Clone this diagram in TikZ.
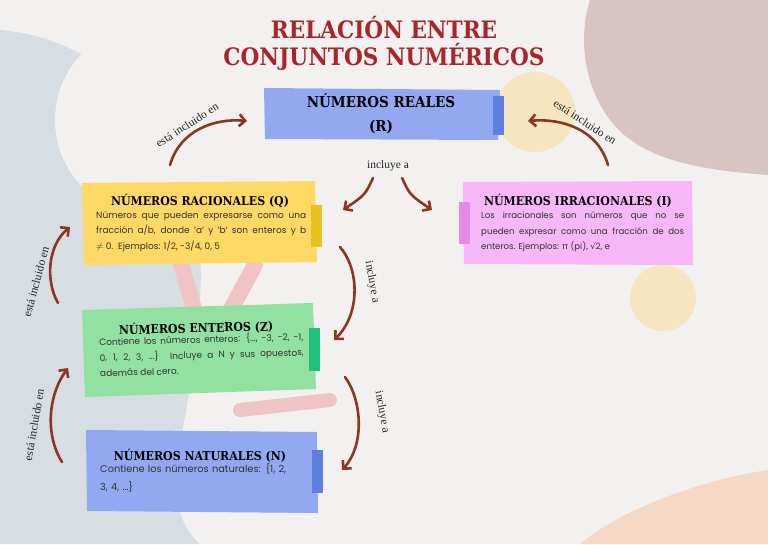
\documentclass[tikz,border=0pt]{standalone}
\usepackage{fontspec}
\setmainfont{Poppins}
\newfontfamily\slabc{DejaVu Serif Condensed}
\newfontfamily\djs{DejaVu Sans}
\newfontfamily\lab{Liberation Serif}
\usetikzlibrary{arrows.meta}
\newcommand{\nohy}{\hyphenpenalty=10000\relax}
\definecolor{bg}{HTML}{F3F1EF}
\definecolor{blob}{HTML}{D6DEE3}
\definecolor{mauve}{HTML}{D9C4C4}
\definecolor{peach}{HTML}{F6D9C4}
\definecolor{pyel}{HTML}{F5E6C0}
\definecolor{pstroke}{HTML}{F0C4C4}
\definecolor{ttl}{HTML}{A8262B}
\definecolor{arr}{HTML}{8E3422}
\definecolor{cblue}{HTML}{92A9F2}
\definecolor{tblue}{HTML}{5E7FE0}
\definecolor{cyel}{HTML}{FFD966}
\definecolor{tyel}{HTML}{E6C21E}
\definecolor{cpink}{HTML}{F7B8F7}
\definecolor{tpink}{HTML}{E48BE4}
\definecolor{cgreen}{HTML}{92E1A2}
\definecolor{tgreen}{HTML}{1FBF7C}
\tikzset{
 hd/.style={font=\slabc\bfseries\fontsize{12.2}{14}\selectfont, text=black},
 bd/.style={font=\fontsize{9}{15.5}\selectfont\nohy, text=black!80, align=justify, text width=#1, inner sep=0pt},
 con/.style={draw=arr, line width=2.6pt, -{Straight Barb[length=6pt,width=12pt]}, line cap=round},
 lb/.style={font=\lab\fontsize{11.5}{12}\selectfont, text=black!85}
}
\begin{document}
\begin{tikzpicture}[x=1pt,y=-1pt]
\useasboundingbox (0,0) rectangle (768,544);
\fill[bg] (0,0) rectangle (768,544);
\begin{scope}
\clip (0,0) rectangle (768,544);
\fill[mauve] (590,0) -- (768,0) -- (768,175) .. controls (700,170) and (640,160) .. (610,120) .. controls (580,80) and (580,30) .. (590,0) -- cycle;
\fill[blob] (0,30) .. controls (120,40) and (210,150) .. (200,300) .. controls (195,420) and (150,500) .. (200,544) -- (0,544) -- cycle;
\fill[bg] (150,120) circle (95);
\fill[peach] (768,470) .. controls (700,480) and (620,510) .. (580,544) -- (768,544) -- cycle;
\fill[pyel] (535,112) circle (40);
\fill[pyel] (663,298) circle (33);
\draw[pstroke, line width=16pt, line cap=round] (180,260) -- (200,330);
\draw[pstroke, line width=16pt, line cap=round] (255,265) -- (225,320);
\draw[pstroke, line width=14pt, line cap=round] (240,410) -- (330,400);
\end{scope}
% title
\node[font=\slabc\bfseries\fontsize{24}{27}\selectfont, text=ttl, align=center] (title) at (384,43) {RELACIÓN ENTRE\\CONJUNTOS NUMÉRICOS};
% boxes
\fill[cblue] (264,88) -- (500,90) -- (498,140) -- (265,139) -- cycle;
\fill[tblue] (493,96) rectangle (504,135);
\node[font=\slabc\bfseries\fontsize{15}{24}\selectfont, align=center] (R) at (381,114) {NÚMEROS REALES\\(R)};
\fill[cyel] (82,183) -- (315,181) -- (317,262) -- (84,265) -- cycle;
\fill[tyel] (311,205) rectangle (322,247);
\node[hd] (Q) at (200,201) {NÚMEROS RACIONALES (Q)};
\node[bd=210pt, anchor=north west] (Qt) at (96,211) {Números que pueden expresarse como una fracción a/b, donde 'a' y 'b' son enteros y b\break $\neq$ 0.\ \ Ejemplos: 1/2, -3/4, 0, 5};
\fill[cpink] (463,182) -- (692,181) -- (693,265) -- (464,264) -- cycle;
\fill[tpink] (459,202) rectangle (470,244);
\node[hd] (I) at (578,201) {NÚMEROS IRRACIONALES (I)};
\node[bd=203pt, anchor=north west, font=\fontsize{8.6}{15.5}\selectfont\nohy] (It) at (481,212) {Los irracionales son números que no se\break pueden expresar como una fracción de dos\break enteros. Ejemplos: π (pi), {\djs√}2, e};
\fill[cgreen] (82,310) -- (313,303) -- (316,389) -- (85,397) -- cycle;
\fill[tgreen] (309,328) rectangle (320,371);
\node[hd, rotate=1.5] (Z) at (196,328) {NÚMEROS ENTEROS (Z)};
\node[bd=204pt, anchor=north west, rotate=1.5] (Zt) at (99,337) {Contiene los números enteros: \{..., -3, -2, -1,\break 0, 1, 2, 3, ...\} Incluye a N y sus opuestos,\break además del cero.};
\fill[cblue] (86,430) -- (317,432) -- (318,513) -- (87,511) -- cycle;
\fill[tblue] (312,450) rectangle (323,493);
\node[hd] (N) at (200,456) {NÚMEROS NATURALES (N)};
\node[bd=205pt, anchor=north west, align=left, font=\fontsize{9.8}{18}\selectfont\nohy] (Nt) at (100,463) {Contiene los números naturales: \{1, 2,\\3, 4, ...\}};
% connectors
\coordinate (a1) at (170,165); \coordinate (a2) at (247,121);
\draw[con] (a1) .. controls (180,130) and (215,118) .. (a2);
\node[lb, rotate=33] (l1) at (187,125) {está incluido en};
\coordinate (b1) at (608,165); \coordinate (b2) at (528,121);
\draw[con] (b1) .. controls (598,130) and (563,118) .. (b2);
\node[lb, rotate=-33] (l2) at (585,122) {está incluido en};
\node[lb] (inc) at (388,166) {incluye a};
\coordinate (c1) at (373,178); \coordinate (c2) at (343,210);
\draw[con] (c1) .. controls (365,195) .. (c2);
\coordinate (d1) at (402,178); \coordinate (d2) at (432,210);
\draw[con] (d1) .. controls (410,195) .. (d2);
\coordinate (e1) at (340,247); \coordinate (e2) at (334,340);
\draw[con] (e1) .. controls (360,270) and (360,315) .. (e2);
\node[lb, rotate=-80] (l3) at (372,282) {incluye a};
\coordinate (f1) at (345,377); \coordinate (f2) at (342,470);
\draw[con] (f1) .. controls (362,400) and (365,445) .. (f2);
\node[lb, rotate=-80] (l4) at (382,412) {incluye a};
\coordinate (g1) at (58,303); \coordinate (g2) at (70,227);
\draw[con] (g1) .. controls (45,280) and (48,245) .. (g2);
\node[lb, rotate=75] (l5) at (36,282) {está incluido en};
\coordinate (h1) at (62,462); \coordinate (h2) at (68,368);
\draw[con] (h1) .. controls (45,435) and (48,395) .. (h2);
\node[lb, rotate=80] (l6) at (34,425) {está incluido en};
\end{tikzpicture}
\end{document}
